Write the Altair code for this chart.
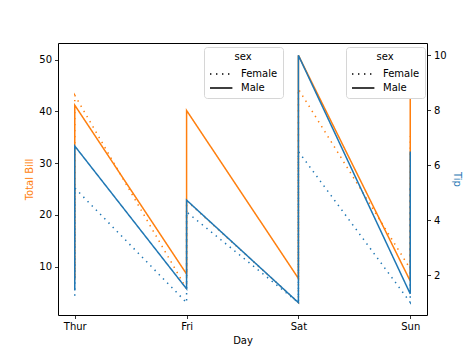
import altair as alt
import pandas as pd

days = ["Thur", "Fri", "Sat", "Sun"]
sexes = ["Female", "Male"]

# Total bill: per-day lowest and highest value for each sex
bill_male_min = [7.51, 8.58, 7.74, 7.25]
bill_male_max = [41.19, 40.17, 50.81, 48.17]
bill_female_min = [8.35, 5.75, 3.07, 9.60]
bill_female_max = [43.11, 22.75, 44.30, 35.26]

# Tip: per-day lowest and highest value for each sex
tip_male_min = [1.44, 1.50, 1.00, 1.32]
tip_male_max = [6.70, 4.73, 10.00, 6.50]
tip_female_min = [1.25, 1.00, 1.00, 1.01]
tip_female_max = [5.17, 4.30, 6.50, 5.20]


def build(series):
    rows = []
    for sex, mins, maxs in series:
        for i, d in enumerate(days):
            rows.append({"sex": sex, "x": i, "value": mins[i], "order": 2 * i})
            rows.append({"sex": sex, "x": i, "value": maxs[i], "order": 2 * i + 1})
    return pd.DataFrame(rows)


bill_df = build([("Female", bill_female_min, bill_female_max),
                 ("Male", bill_male_min, bill_male_max)])
tip_df = build([("Female", tip_female_min, tip_female_max),
                ("Male", tip_male_min, tip_male_max)])

FONT = "DejaVu Sans"

x_enc = alt.X(
    "x:Q",
    scale=alt.Scale(domain=[-0.15, 3.15], nice=False, zero=False),
    axis=alt.Axis(values=[0, 1, 2, 3],
                  labelExpr="['Thur','Fri','Sat','Sun'][datum.value]",
                  title="Day", titlePadding=4),
)


def dash_legend(lx):
    return alt.Legend(
        title="sex", orient="none", legendX=lx, legendY=4,
        symbolType="M-1,0H2.2", symbolStrokeColor="black", symbolStrokeWidth=1.5,
        symbolSize=196, fillColor="white", strokeColor="#d6d6d6",
        cornerRadius=3, padding=5, titleAnchor="middle", titleFontWeight="normal",
        titleFontSize=10, labelFontSize=10, titleFont=FONT, labelFont=FONT,
        titleColor="black", labelColor="black", rowPadding=1, titlePadding=4,
        labelOffset=16,
    )


dash_scale_vals = dict(domain=sexes, range=[[1.4, 4.6], [1, 0]])

bill = alt.Chart(bill_df).mark_line(color="#ff7f0e", strokeWidth=1.5).encode(
    x=x_enc,
    y=alt.Y("value:Q",
            scale=alt.Scale(domain=[0.68, 53.2], nice=False, zero=False),
            axis=alt.Axis(orient="left", values=[10, 20, 30, 40, 50],
                          title="Total Bill", titleColor="#ff7f0e", titlePadding=4)),
    strokeDash=alt.StrokeDash("sex:N", scale=alt.Scale(**dash_scale_vals),
                              legend=dash_legend(146)),
    order=alt.Order("order:Q"),
)

tip = alt.Chart(tip_df).mark_line(color="#1f77b4", strokeWidth=1.5).encode(
    x=x_enc,
    y=alt.Y("value:Q",
            scale=alt.Scale(domain=[0.55, 10.45], nice=False, zero=False),
            axis=alt.Axis(orient="right", values=[2, 4, 6, 8, 10],
                          title="Tip", titleColor="#1f77b4", titlePadding=5)),
    strokeDash=alt.StrokeDash("sex:N", scale=alt.Scale(**dash_scale_vals),
                              legend=dash_legend(288)),
    order=alt.Order("order:Q"),
)

chart = alt.layer(bill, tip).resolve_scale(
    y="independent", strokeDash="independent"
).resolve_legend(strokeDash="independent").properties(
    width=369, height=272,
    autosize=alt.AutoSizeParams(type="none"),
    padding={"left": 58, "top": 43, "right": 47, "bottom": 40},
    background="white",
).configure_view(
    stroke="black", strokeWidth=1
).configure_axis(
    grid=False, domain=False, tickColor="black", tickSize=3.5, tickWidth=0.8,
    labelFont=FONT, labelFontSize=10, labelColor="black", labelPadding=3,
    titleFont=FONT, titleFontSize=10, titleFontWeight="normal", titleColor="black",
)

chart.save("out.html", embed_options={"renderer": "svg", "actions": False})
